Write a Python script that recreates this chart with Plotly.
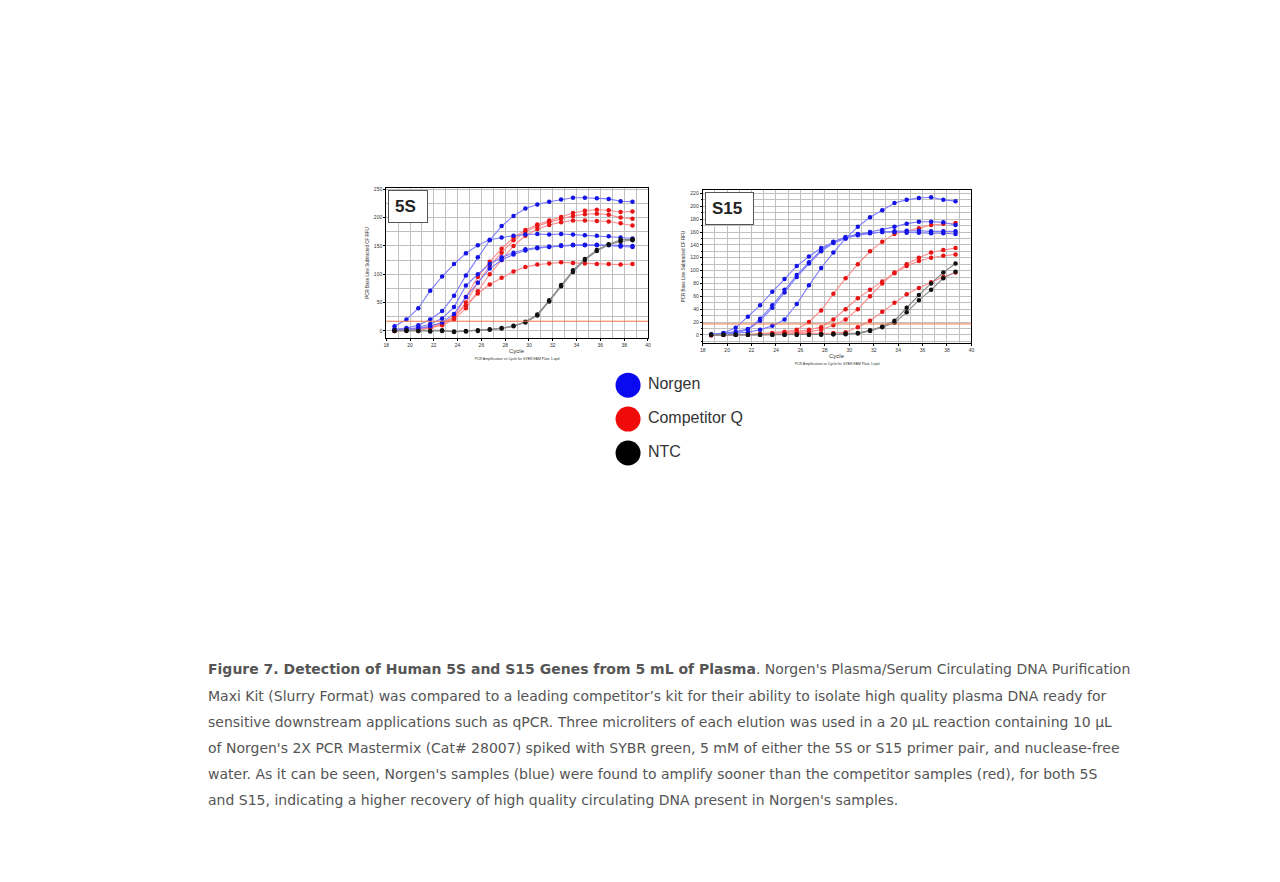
import plotly.graph_objects as go

# qPCR amplification data (cycle vs baseline-subtracted RFU)
CYCLES = [18.7, 19.7, 20.7, 21.7, 22.7, 23.7, 24.7, 25.7, 26.7, 27.7, 28.7,
          29.7, 30.7, 31.7, 32.7, 33.7, 34.7, 35.7, 36.7, 37.7, 38.7]

# 5S panel
s5_norgen = [
    [8, 20, 40, 71, 96, 118, 137, 151, 161, 165, 168, 170, 171, 170, 171, 170, 169, 168, 167, 165, 163],
    [3, 5, 10, 20, 35, 62, 98, 130, 160, 185, 203, 216, 223, 228, 232, 235, 235, 234, 233, 229, 228],
    [2, 3, 6, 12, 22, 42, 80, 100, 118, 130, 138, 144, 147, 149, 151, 152, 152, 152, 152, 151, 150],
    [1, 2, 4, 8, 15, 30, 60, 85, 110, 125, 135, 142, 146, 148, 150, 151, 151, 151, 151, 149, 148],
]
s5_competitor = [
    [1, 2, 4, 8, 14, 25, 60, 95, 122, 145, 165, 178, 188, 195, 201, 208, 212, 214, 213, 210, 211],
    [0, 1, 3, 6, 12, 22, 50, 85, 115, 138, 160, 175, 185, 192, 198, 203, 206, 207, 205, 200, 198],
    [0, 1, 2, 5, 10, 20, 40, 70, 100, 125, 150, 168, 180, 187, 192, 195, 195, 194, 193, 190, 186],
    [0, 1, 2, 5, 12, 25, 45, 66, 82, 94, 105, 113, 117, 119, 121, 120, 119, 118, 118, 117, 118],
]
s5_ntc = [
    [0, 0, 0, -1, 0, -2, -1, 0, 2, 4, 8, 16, 29, 54, 81, 107, 127, 143, 153, 161, 162],
    [1, 1, 0, 0, 1, -1, 0, 1, 3, 5, 9, 15, 27, 52, 79, 104, 125, 141, 152, 158, 160],
]
s5_threshold = 17

# S15 panel
s15_norgen = [
    [1, 3, 11, 28, 46, 67, 87, 107, 122, 135, 144, 152, 157, 159, 160, 160, 159, 159, 158, 158, 157],
    [0, 2, 5, 9, 25, 46, 70, 93, 113, 132, 145, 152, 156, 160, 163, 168, 173, 176, 176, 175, 171],
    [0, 1, 3, 8, 22, 42, 66, 90, 111, 130, 143, 150, 155, 158, 160, 161, 162, 162, 161, 161, 161],
    [0, 1, 2, 4, 8, 14, 24, 48, 77, 104, 128, 150, 168, 183, 194, 205, 210, 213, 214, 210, 208],
]
s15_competitor = [
    [0, 0, 1, 1, 2, 3, 5, 8, 20, 38, 64, 88, 110, 130, 145, 157, 161, 166, 171, 173, 174],
    [0, 0, 0, 1, 1, 2, 3, 5, 8, 12, 24, 40, 57, 70, 83, 97, 110, 120, 128, 132, 135],
    [0, 0, 0, 0, 1, 1, 2, 3, 5, 8, 15, 24, 40, 60, 80, 96, 107, 115, 120, 123, 125],
    [-1, 0, 0, 0, 0, 1, 1, 2, 2, 2, 3, 4, 12, 22, 36, 50, 63, 73, 82, 90, 97],
]
s15_ntc = [
    [0, 0, 0, 0, 0, 0, 0, 0, 0, 1, 1, 2, 3, 7, 13, 22, 42, 62, 80, 97, 111],
    [0, 0, 0, 0, 0, 0, 0, 0, 0, 0, 1, 1, 2, 6, 12, 19, 35, 54, 70, 88, 98],
]
s15_threshold = 17

legend_labels = ["Norgen", "Competitor Q", "NTC"]
legend_colors = ["#0a0af0", "#f00a0a", "#000000"]

caption_lines = [
    "<b>Figure 7. Detection of Human 5S and S15 Genes from 5 mL of Plasma</b>. Norgen's Plasma/Serum Circulating DNA Purification",
    "Maxi Kit (Slurry Format) was compared to a leading competitor\u2019s kit for their ability to isolate high quality plasma DNA ready for",
    "sensitive downstream applications such as qPCR. Three microliters of each elution was used in a 20 \u00b5L reaction containing 10 \u00b5L",
    "of Norgen's 2X PCR Mastermix (Cat# 28007) spiked with SYBR green, 5 mM of either the 5S or S15 primer pair, and nuclease-free",
    "water. As it can be seen, Norgen's samples (blue) were found to amplify sooner than the competitor samples (red), for both 5S",
    "and S15, indicating a higher recovery of high quality circulating DNA present in Norgen's samples.",
]

W, H = 1264, 866  # page minus the 8px body margin


def dx(a, b):
    return [(a - 8) / W, (b - 8) / W]


def dy(top, bottom):
    return [1 - (bottom - 8) / H, 1 - (top - 8) / H]


styles = {
    "norgen": dict(line="#7a7aff", marker="#1414e6"),
    "competitor": dict(line="#ff8a8a", marker="#e61414"),
    "ntc": dict(line="#8a8a8a", marker="#111111"),
}

fig = go.Figure()


def add_curves(curves, key, xa, ya):
    st = styles[key]
    for ys in curves:
        fig.add_trace(go.Scatter(
            x=CYCLES, y=ys, mode="lines+markers", xaxis=xa, yaxis=ya,
            line=dict(color=st["line"], width=1.1),
            marker=dict(color=st["marker"], size=4.5),
            showlegend=False, hoverinfo="skip",
        ))


add_curves(s5_competitor, "competitor", "x", "y")
add_curves(s5_norgen, "norgen", "x", "y")
add_curves(s5_ntc, "ntc", "x", "y")
add_curves(s15_competitor, "competitor", "x2", "y2")
add_curves(s15_norgen, "norgen", "x2", "y2")
add_curves(s15_ntc, "ntc", "x2", "y2")

# legend drawn as its own little panel so the dots can be large
fig.add_trace(go.Scatter(
    x=[0] * len(legend_labels), y=legend_labels, mode="markers+text",
    xaxis="x5", yaxis="y5", text=["\u2009" + t for t in legend_labels],
    textposition="middle right",
    marker=dict(color=legend_colors, size=25),
    textfont=dict(family="Liberation Sans", size=16, color="#333333"),
    cliponaxis=False, showlegend=False, hoverinfo="skip",
))

tickfont = dict(family="Liberation Sans", size=5, color="#333333")
grid = "#c0c0c0"

xcommon = dict(
    range=[18, 40], dtick=2, tick0=18, showgrid=True, gridcolor=grid, gridwidth=1,
    minor=dict(dtick=1, showgrid=True, gridcolor=grid, gridwidth=1),
    showline=True, linecolor="#000000", linewidth=1, mirror=True,
    ticks="outside", ticklen=2, tickcolor="#000000", tickfont=tickfont,
    zeroline=False, title=dict(text="PCR Amplification vs Cycle for SYBR-FAM Plate 1.opd",
                               font=dict(family="Liberation Sans", size=3.5, color="#333333"),
                               standoff=10),
)
s5_range = [-13, 253]
s15_range = [-13, 226]

fig.update_layout(
    width=W, height=H, autosize=False,
    margin=dict(l=0, r=0, t=0, b=0),
    paper_bgcolor="#ffffff", plot_bgcolor="#ffffff",
    xaxis=dict(domain=dx(385, 648), anchor="y", **xcommon),
    xaxis2=dict(domain=dx(703, 973), anchor="y2", **xcommon),
    yaxis=dict(
        domain=dy(186, 337), anchor="x", range=s5_range, dtick=50, tick0=0,
        showgrid=True, gridcolor=grid, minor=dict(dtick=25, showgrid=True, gridcolor=grid),
        showline=True, linecolor="#000000", mirror=True, zeroline=False,
        ticks="outside", ticklen=2, tickcolor="#000000", tickfont=tickfont,
        title=dict(text="PCR Base Line Subtracted CF RFU",
                   font=dict(family="Liberation Sans", size=4.5, color="#333333"), standoff=4),
    ),
    yaxis3=dict(
        overlaying="y", side="right", anchor="x", range=s5_range, dtick=50, tick0=0,
        showgrid=False, zeroline=False, ticks="outside", ticklen=2, tickcolor="#000000",
        tickfont=tickfont,
    ),
    yaxis2=dict(
        domain=dy(188, 342), anchor="x2", range=s15_range, dtick=20, tick0=0,
        showgrid=True, gridcolor=grid,
        minor=dict(dtick=10, showgrid=True, gridcolor=grid, ticks="outside", ticklen=1, tickcolor="#000000"),
        showline=True, linecolor="#000000", mirror=True, zeroline=False,
        ticks="outside", ticklen=2, tickcolor="#000000", tickfont=tickfont,
        title=dict(text="PCR Base Line Subtracted CF RFU",
                   font=dict(family="Liberation Sans", size=4.5, color="#333333"), standoff=4),
    ),
    yaxis4=dict(
        overlaying="y2", side="right", anchor="x2", range=s15_range, dtick=20, tick0=0,
        showgrid=False, zeroline=False, ticks="outside", ticklen=2, tickcolor="#000000",
        minor=dict(dtick=10, ticks="outside", ticklen=1, tickcolor="#000000"),
        tickfont=tickfont,
    ),
    xaxis5=dict(domain=dx(628, 800), anchor="y5", range=[0, 1], visible=False),
    yaxis5=dict(domain=dy(367, 469), anchor="x5", range=[2.5, -0.5], visible=False,
                type="category", categoryorder="array", categoryarray=legend_labels),
    showlegend=False,
)

# threshold lines
for xr, yr, thr in [("x", "y", s5_threshold), ("x2", "y2", s15_threshold)]:
    fig.add_shape(type="line", xref=xr + " domain", yref=yr, x0=0, x1=1, y0=thr, y1=thr,
                  line=dict(color="#ee7744", width=1))

# panel labels
for xr, yr, label in [("x", "y", "5S"), ("x2", "y2", "S15")]:
    fig.add_annotation(
        xref=xr + " domain", yref=yr + " domain", x=0.008, y=0.985, xanchor="left", yanchor="top",
        text="<b>" + label + "</b> ", showarrow=False, bgcolor="#ffffff",
        bordercolor="#555555", borderwidth=1, borderpad=6,
        font=dict(family="Liberation Sans", size=17, color="#222222"),
    )
    fig.add_annotation(
        xref=xr + " domain", yref=yr + " domain", x=0.5, y=-0.085, xanchor="center", yanchor="middle",
        text="Cycle", showarrow=False, font=dict(family="Liberation Sans", size=6, color="#333333"),
    )

# caption paragraph, one annotation per line to get the page's line spacing
for i, line in enumerate(caption_lines):
    fig.add_annotation(
        xref="paper", yref="paper", x=(204 - 8) / W, y=1 - (669 + i * 26.2 - 8) / H,
        xanchor="left", yanchor="middle", text=line, showarrow=False, align="left",
        font=dict(family="DejaVu Sans", size=14, color="#555555"),
    )

fig.write_html("out.html")
